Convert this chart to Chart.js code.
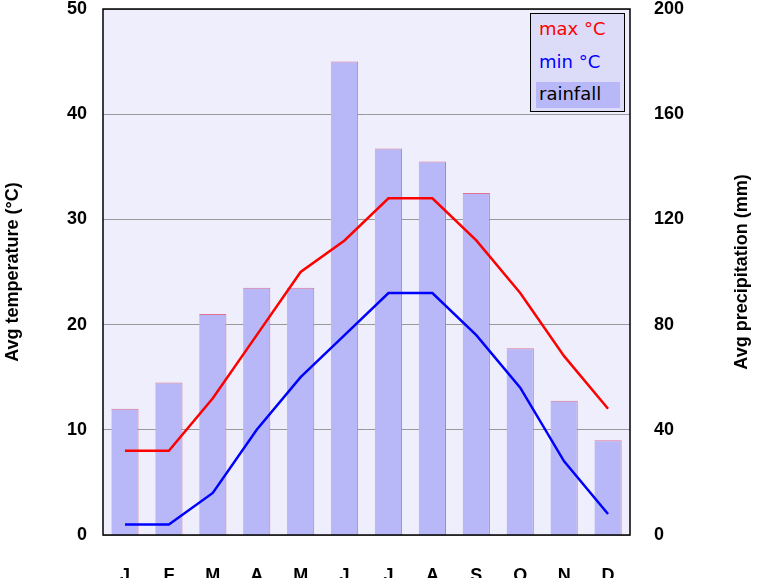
<!DOCTYPE html>
<html><head><meta charset="utf-8">
<script src="https://cdn.jsdelivr.net/npm/chart.js@4"></script>
<style>
body{margin:0;background:#fff;}
#wrap{position:relative;width:757px;height:578px;}
#leg{position:absolute;left:530px;top:13px;width:93px;height:97px;border:1px solid #000;background:#dcdcf8;font-family:"DejaVu Sans",sans-serif;font-size:18px;}
#leg div{position:absolute;left:8px;}
</style></head><body>
<div id="wrap"><canvas id="c" width="757" height="578"></canvas>
<div id="leg"><div style="top:4px;color:#f00">max °C</div><div style="top:37px;color:#00f">min °C</div>
<div style="top:68px;left:5px;width:84px;height:26px;background:#b8b8f8;color:#000;"><span style="position:relative;left:3px;top:1px">rainfall</span></div></div>
</div>
<script>
const months=['J','F','M','A','M','J','J','A','S','O','N','D'];
const maxT=[8,8,13,19,25,28,32,32,28,23,17,12];
const minT=[1,1,4,10,15,19,23,23,19,14,7,2];
const rain=[48,58,84,94,94,180,147,142,130,71,51,36];
const tempTicks=[0,10,20,30,40,50];
const rainTicks=[0,40,80,120,160,200];
const F={family:'Liberation Sans, Arial, sans-serif',size:18,weight:'bold'};
const bg={id:'bg',beforeDraw(c){const a=c.chartArea,x=c.ctx;x.save();x.fillStyle='#eeeefc';x.fillRect(a.left,a.top,a.right-a.left,a.bottom-a.top);x.restore();},
afterDraw(c){const a=c.chartArea,x=c.ctx;x.save();x.strokeStyle='#000';x.lineWidth=1.5;x.strokeRect(a.left,a.top,a.right-a.left,a.bottom-a.top);
 x.fillStyle='#000';x.font='bold 18px Liberation Sans, Arial, sans-serif';x.textAlign='center';x.textBaseline='middle';
 const cy=(a.top+a.bottom)/2;
 x.translate(13,cy);x.rotate(-Math.PI/2);x.fillText('Avg temperature (°C)',0,0);x.restore();
 x.save();x.fillStyle='#000';x.font='bold 18px Liberation Sans, Arial, sans-serif';x.textAlign='center';x.textBaseline='middle';
 x.translate(742,cy);x.rotate(-Math.PI/2);x.fillText('Avg precipitation (mm)',0,0);x.restore();}};
function fitV(w){return s=>{s.width=w;s.paddingTop=0;s.paddingBottom=0;};}
new Chart(document.getElementById('c'),{
 data:{labels:months,datasets:[
  {type:'line',data:maxT,borderColor:'#f00',borderWidth:2.5,pointRadius:0,yAxisID:'y',tension:0},
  {type:'line',data:minT,borderColor:'#00f',borderWidth:2.5,pointRadius:0,yAxisID:'y',tension:0},
  {type:'bar',data:rain,backgroundColor:'#b8b8f8',borderColor:'#e07090',borderWidth:{top:1,right:1,left:0,bottom:0},borderSkipped:false,yAxisID:'y2',barPercentage:0.62,categoryPercentage:1}
 ]},
 options:{responsive:false,animation:false,
  layout:{padding:{top:9,right:0,bottom:0,left:0}},
  plugins:{legend:{display:false},tooltip:{enabled:false}},
  scales:{
   x:{grid:{display:false},border:{display:false},ticks:{color:'#000',font:F,padding:22},afterFit(s){s.height=43;s.paddingLeft=0;s.paddingRight=0;}},
   y:{position:'left',min:0,max:50,afterBuildTicks(s){s.ticks=tempTicks.map(v=>({value:v}));},afterFit:fitV(103),
      grid:{color:'#999',drawTicks:false},border:{display:false},ticks:{color:'#000',font:F,padding:16}},
   y2:{position:'right',min:0,max:200,afterBuildTicks(s){s.ticks=rainTicks.map(v=>({value:v}));},afterFit:fitV(127),
      grid:{display:false},border:{display:false},ticks:{color:'#000',font:F,padding:16}}
  }},
 plugins:[bg]
});
</script></body></html>
